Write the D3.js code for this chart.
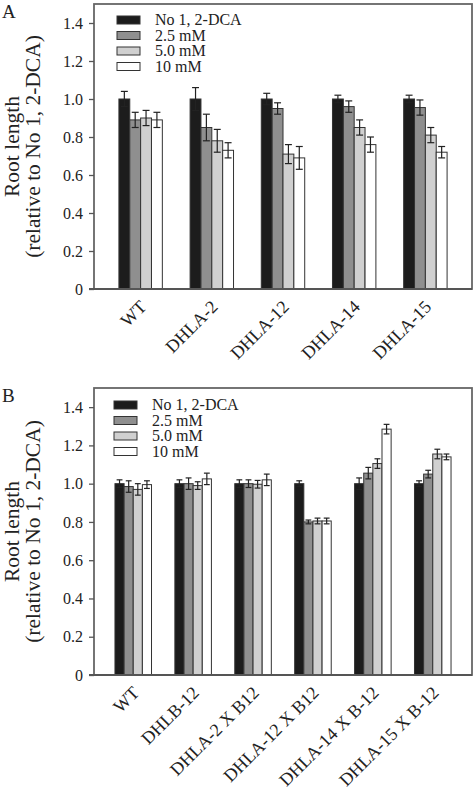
<!DOCTYPE html>
<html>
<head>
<meta charset="utf-8">
<script src="https://cdn.jsdelivr.net/npm/d3@7/dist/d3.min.js"></script>
<style>
  body { margin: 0; background: #fff; }
  svg { display: block; font-family: "Liberation Serif", "Times New Roman", serif; }
</style>
</head>
<body>
<div id="chart"></div>
<script>
// series (same for both panels)
const seriesNames = ["No 1, 2-DCA", "2.5 mM", "5.0 mM", "10 mM"];
const seriesColors = ["#1c1c1c", "#8f8f8f", "#d0d0d0", "#ffffff"];
const yTicks = [0, 0.2, 0.4, 0.6, 0.8, 1.0, 1.2, 1.4];

// panel A
const catsA = ["WT", "DHLA-2", "DHLA-12", "DHLA-14", "DHLA-15"];
const valuesA = [
  [1.00, 0.89, 0.90, 0.89],
  [1.00, 0.85, 0.78, 0.73],
  [1.00, 0.95, 0.71, 0.69],
  [1.00, 0.96, 0.85, 0.76],
  [1.00, 0.955, 0.81, 0.72]
];
const errorsA = [
  [0.04, 0.04, 0.04, 0.04],
  [0.06, 0.07, 0.06, 0.04],
  [0.03, 0.03, 0.05, 0.06],
  [0.02, 0.03, 0.04, 0.04],
  [0.02, 0.04, 0.04, 0.03]
];

// panel B
const catsB = ["WT", "DHLB-12", "DHLA-2 X B12", "DHLA-12 X B12", "DHLA-14 X B-12", "DHLA-15 X B-12"];
const valuesB = [
  [1.00, 0.985, 0.97, 0.995],
  [1.00, 1.00, 0.99, 1.025],
  [1.00, 1.00, 0.997, 1.02],
  [1.00, 0.80, 0.805, 0.805],
  [1.00, 1.055, 1.105, 1.285],
  [1.00, 1.05, 1.155, 1.14]
];
const errorsB = [
  [0.02, 0.03, 0.03, 0.02],
  [0.02, 0.03, 0.02, 0.03],
  [0.02, 0.02, 0.02, 0.03],
  [0.015, 0.01, 0.015, 0.015],
  [0.03, 0.03, 0.025, 0.025],
  [0.015, 0.02, 0.025, 0.015]
];

const W = 474, H = 796;
const svg = d3.select("#chart").append("svg")
  .attr("width", W)
  .attr("height", H);

function drawPanel(opt) {
  const { letter, cats, values, errors, left, right, top, bottom, legendX, legendY } = opt;

  const g = svg.append("g");

  const x = d3.scaleBand()
    .domain(cats)
    .range([left, right])
    .paddingInner(0.39)
    .paddingOuter(0.35);

  const xs = d3.scaleBand()
    .domain(d3.range(seriesNames.length))
    .range([0, x.bandwidth()]);

  const y = d3.scaleLinear()
    .domain([0, 1.5])
    .range([bottom, top]);

  // bars
  const groups = g.selectAll(".grp")
    .data(cats)
    .enter().append("g")
    .attr("transform", d => `translate(${x(d)},0)`);

  groups.each(function(cat, ci) {
    const grp = d3.select(this);
    const rows = values[ci].map((v, si) => ({ v, e: errors[ci][si], si }));

    grp.selectAll("rect")
      .data(rows)
      .enter().append("rect")
      .attr("x", d => xs(d.si))
      .attr("y", d => y(d.v))
      .attr("width", xs.bandwidth())
      .attr("height", d => y(0) - y(d.v))
      .attr("fill", d => seriesColors[d.si])
      .attr("stroke", "#333")
      .attr("stroke-width", 1);

    // error bars
    const cap = xs.bandwidth() * 0.32;
    const eb = grp.selectAll(".eb")
      .data(rows)
      .enter().append("g")
      .attr("stroke", "#222")
      .attr("stroke-width", 1.2);
    eb.append("line")
      .attr("x1", d => xs(d.si) + xs.bandwidth() / 2)
      .attr("x2", d => xs(d.si) + xs.bandwidth() / 2)
      .attr("y1", d => y(d.v - d.e))
      .attr("y2", d => y(d.v + d.e));
    eb.append("line")
      .attr("x1", d => xs(d.si) + xs.bandwidth() / 2 - cap)
      .attr("x2", d => xs(d.si) + xs.bandwidth() / 2 + cap)
      .attr("y1", d => y(d.v + d.e))
      .attr("y2", d => y(d.v + d.e));
    eb.append("line")
      .attr("x1", d => xs(d.si) + xs.bandwidth() / 2 - cap)
      .attr("x2", d => xs(d.si) + xs.bandwidth() / 2 + cap)
      .attr("y1", d => y(d.v - d.e))
      .attr("y2", d => y(d.v - d.e));
  });

  // frame
  g.append("rect")
    .attr("x", left)
    .attr("y", top)
    .attr("width", right - left)
    .attr("height", bottom - top)
    .attr("fill", "none")
    .attr("stroke", "#666")
    .attr("stroke-width", 1.8);

  // y axis
  const yAxis = g.append("g")
    .attr("transform", `translate(${left},0)`)
    .call(d3.axisLeft(y).tickValues(yTicks).tickSize(5).tickPadding(6)
      .tickFormat(d => d === 0 ? "0" : d3.format(".1f")(d)));
  yAxis.select(".domain").remove();
  yAxis.selectAll("line").attr("stroke", "#555").attr("stroke-width", 1.3);
  yAxis.selectAll("text")
    .attr("font-size", 16)
    .attr("font-family", "Liberation Serif")
    .attr("fill", "#222");

  // bottom axis line runs a little past the left edge, as in the original
  g.append("line")
    .attr("x1", left - 5).attr("x2", right)
    .attr("y1", bottom).attr("y2", bottom)
    .attr("stroke", "#555").attr("stroke-width", 1.8);

  // x labels
  g.selectAll(".xl")
    .data(cats)
    .enter().append("text")
    .attr("transform", d => `translate(${x(d) + x.bandwidth() / 2 + 7},${bottom + 19}) rotate(-45)`)
    .attr("text-anchor", "end")
    .attr("font-size", 18)
    .attr("fill", "#222")
    .text(d => d);

  // y title
  const midY = (top + bottom) / 2;
  g.append("text")
    .attr("transform", `translate(19,${midY}) rotate(-90)`)
    .attr("text-anchor", "middle")
    .attr("font-size", 21.5)
    .attr("fill", "#222")
    .text("Root length");
  g.append("text")
    .attr("transform", `translate(40,${midY}) rotate(-90)`)
    .attr("text-anchor", "middle")
    .attr("font-size", 21.5)
    .attr("fill", "#222")
    .text("(relative to No 1, 2-DCA)");

  // panel letter
  g.append("text")
    .attr("x", 2)
    .attr("y", top + 14)
    .attr("font-size", 19)
    .attr("fill", "#222")
    .text(letter);

  // legend
  const leg = g.append("g").attr("transform", `translate(${legendX},${legendY})`);
  seriesNames.forEach((name, i) => {
    leg.append("rect")
      .attr("x", 0)
      .attr("y", i * 15.5 - 4)
      .attr("width", 23)
      .attr("height", 8)
      .attr("fill", seriesColors[i])
      .attr("stroke", "#333")
      .attr("stroke-width", 1);
    leg.append("text")
      .attr("x", 38)
      .attr("y", i * 15.5 + 5)
      .attr("font-size", 16)
      .attr("fill", "#222")
      .text(name);
  });
}

drawPanel({
  letter: "A", cats: catsA, values: valuesA, errors: errorsA,
  left: 94, right: 472, top: 4, bottom: 289,
  legendX: 117, legendY: 20
});

drawPanel({
  letter: "B", cats: catsB, values: valuesB, errors: errorsB,
  left: 94, right: 472, top: 388, bottom: 675,
  legendX: 114, legendY: 405
});
</script>
</body>
</html>
